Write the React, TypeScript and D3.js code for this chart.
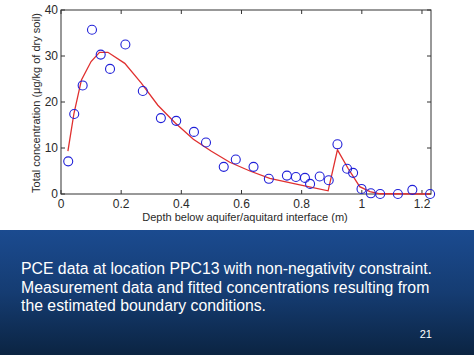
import React from "react";
import * as d3 from "d3";

const measDepth = [0.024, 0.044, 0.072, 0.103, 0.132, 0.163, 0.214, 0.272, 0.332, 0.383, 0.442, 0.482, 0.541, 0.581, 0.640, 0.691, 0.751, 0.781, 0.811, 0.828, 0.860, 0.890, 0.919, 0.951, 0.971, 0.999, 1.030, 1.061, 1.120, 1.168, 1.227];
const measConc = [7.1, 17.4, 23.6, 35.7, 30.3, 27.2, 32.5, 22.4, 16.5, 15.9, 13.5, 11.2, 5.9, 7.5, 5.9, 3.3, 4.0, 3.7, 3.5, 2.2, 3.8, 3.0, 10.8, 5.5, 4.6, 1.1, 0.15, 0.0, 0.0, 0.9, 0.0];

const fitDepth = [0.023, 0.043, 0.068, 0.100, 0.128, 0.156, 0.212, 0.267, 0.322, 0.379, 0.440, 0.500, 0.561, 0.628, 0.694, 0.794, 0.888, 0.919, 0.954, 0.993, 1.027, 1.060, 1.227];
const fitConc = [9.3, 17.5, 24.8, 28.8, 30.8, 30.8, 28.4, 24.1, 19.3, 15.5, 11.9, 9.3, 6.9, 5.0, 3.4, 2.0, 0.7, 9.6, 5.6, 1.6, 0.5, 0.05, 0.0];

const xTicks = [0, 0.2, 0.4, 0.6, 0.8, 1, 1.2];
const yTicks = [0, 10, 20, 30, 40];

const captionLines = [
  "PCE data at location PPC13 with non-negativity constraint.",
  "Measurement data and fitted concentrations resulting from",
  "the estimated boundary conditions.",
];
const pageNumber = "21";

export default function App() {
  const W = 474, H = 355;
  const L = 61, R = 431, T = 10, B = 194;
  const x = d3.scaleLinear().domain([0, 1.23]).range([L, R]);
  const y = d3.scaleLinear().domain([0, 40]).range([B, T]);
  const line = d3.line<number>().x((_, i) => x(fitDepth[i])).y((d) => y(d));
  const axisColor = "#333";
  const font = "Arial, 'Liberation Sans', sans-serif";
  const tl = 4;
  return (
    <svg width={W} height={H} style={{ position: "absolute", left: 0, top: 0 }} fontFamily={font}>
      <defs>
        <linearGradient id="bg" x1="0" y1="0" x2="0" y2="1">
          <stop offset="0" stopColor="#1b4b90" />
          <stop offset="0.5" stopColor="#153c72" />
          <stop offset="1" stopColor="#0b2442" />
        </linearGradient>
      </defs>
      <rect x={0} y={0} width={W} height={H} fill="#fff" />
      <rect x={0} y={230} width={W} height={H - 230} fill="url(#bg)" />
      <rect x={L} y={T} width={R - L} height={B - T} fill="none" stroke={axisColor} strokeWidth={1} />
      {xTicks.map((t) => (
        <g key={"x" + t}>
          <line x1={x(t)} x2={x(t)} y1={B} y2={B - tl} stroke={axisColor} />
          <line x1={x(t)} x2={x(t)} y1={T} y2={T + tl} stroke={axisColor} />
          <text x={x(t)} y={208} textAnchor="middle" fontSize={12} fill="#2a2a2a">{String(t)}</text>
        </g>
      ))}
      {yTicks.map((t) => (
        <g key={"y" + t}>
          <line x1={L} x2={L + tl} y1={y(t)} y2={y(t)} stroke={axisColor} />
          <line x1={R} x2={R - tl} y1={y(t)} y2={y(t)} stroke={axisColor} />
          <text x={58} y={y(t) + 4} textAnchor="end" fontSize={12} fill="#2a2a2a">{String(t)}</text>
        </g>
      ))}
      <text x={245} y={221} textAnchor="middle" fontSize={11} fill="#2a2a2a">Depth below aquifer/aquitard interface (m)</text>
      <text transform={`translate(40,${(T + B) / 2 + 1}) rotate(-90)`} textAnchor="middle" fontSize={11} fill="#2a2a2a">Total concentration (μg/kg of dry soil)</text>
      <path d={line(fitConc) || ""} fill="none" stroke="#e0302f" strokeWidth={1.3} />
      {measDepth.map((d, i) => (
        <circle key={i} cx={x(d)} cy={y(measConc[i])} r={4.5} fill="none" stroke="#2020d8" strokeWidth={1.1} />
      ))}
      {captionLines.map((s, i) => (
        <text key={i} x={21} y={274 + i * 18.5} fontSize={15.8} fill="#fff">{s}</text>
      ))}
      <text x={432} y={338} textAnchor="end" fontSize={11} fill="#fff">{pageNumber}</text>
    </svg>
  );
}
